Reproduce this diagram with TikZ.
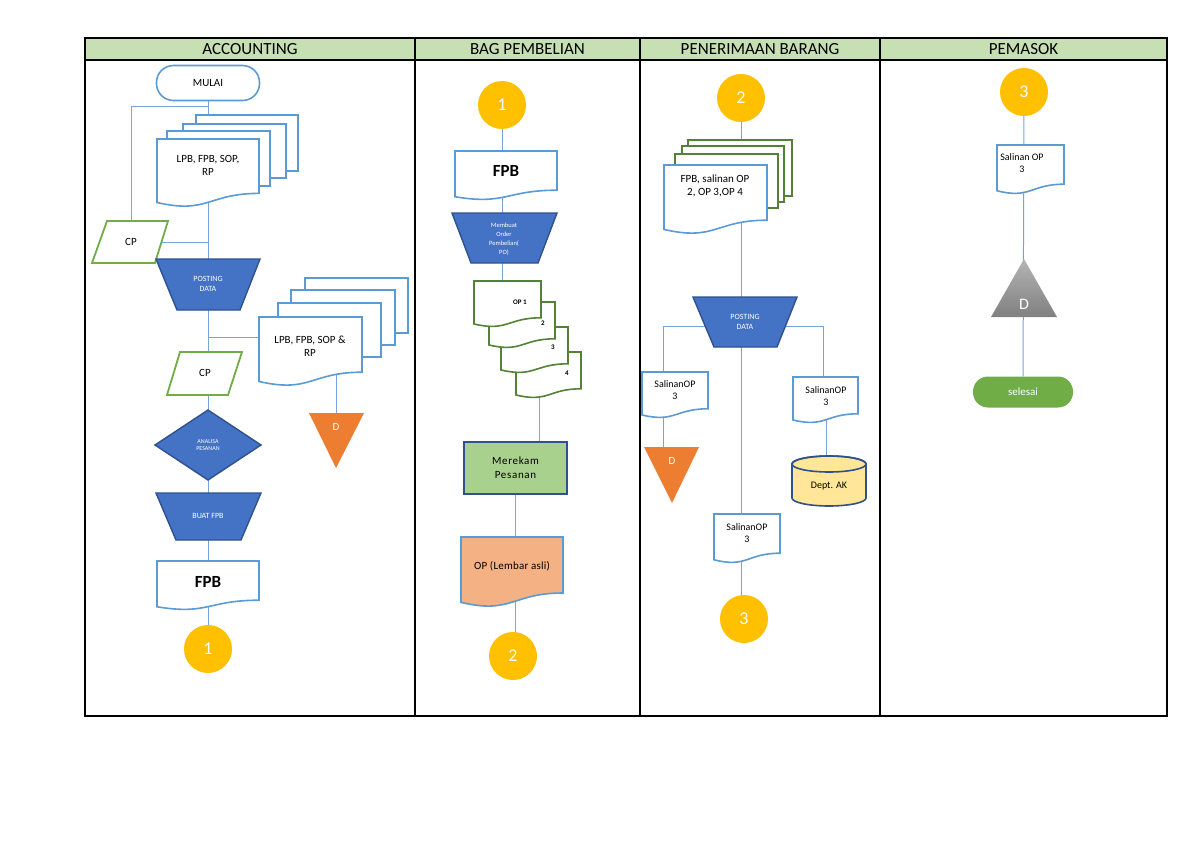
\documentclass[tikz,border=0pt]{standalone}
\usepackage{fontspec}
\setmainfont{Carlito}
\usetikzlibrary{calc}
\pgfdeclarelayer{background}
\pgfsetlayers{background,main}
\definecolor{docblue}{HTML}{5B9BD5}
\definecolor{lineblue}{HTML}{7BA3D9}
\definecolor{dblue}{HTML}{2F528F}
\definecolor{pblue}{HTML}{4472C4}
\definecolor{lgreen}{HTML}{70AD47}
\definecolor{dgreen}{HTML}{548235}
\definecolor{hgreen}{HTML}{C6E0B4}
\definecolor{mgreen}{HTML}{A9D18E}
\definecolor{cyellow}{HTML}{FFC000}
\definecolor{corange}{HTML}{ED7D31}
\definecolor{salmon}{HTML}{F4B183}
\definecolor{cylfill}{HTML}{FFE699}
\definecolor{gtop}{HTML}{B4B4B4}
\definecolor{gbot}{HTML}{808080}
\newcommand\docpath[5][]{\path[#1] (#2,#3) -- ({#2+#4},#3) -- ({#2+#4},{#3+0.8*#5}) .. controls ({#2+0.5*#4},{#3+0.8*#5}) and ({#2+0.5*#4},{#3+1.107*#5}) .. (#2,{#3+0.934*#5}) -- cycle;}
\begin{document}
\begin{tikzpicture}[x=1pt,y=-1pt,
  conn/.style={draw=lineblue, line width=1pt},
  docb/.style={draw=docblue, fill=white, line width=1.6pt},
  docg/.style={draw=dgreen, fill=white, line width=1.6pt},
  doco/.style={draw=docblue, fill=salmon, line width=1.6pt},
  cpg/.style={draw=lgreen, fill=white, line width=1.8pt},
  procb/.style={draw=dblue, fill=pblue, line width=1.4pt},
  oranged/.style={fill=corange},
  lab/.style={font=\fontsize{11}{13}\selectfont, align=center, inner sep=1pt},
  lab10/.style={font=\fontsize{10}{12}\selectfont, align=center, inner sep=1pt},
  wlab/.style={text=white, font=\fontsize{8}{10}\selectfont, align=center, inner sep=1pt},
  smalllab/.style={font=\bfseries\fontsize{7}{8}\selectfont, inner sep=1pt},
  bigb/.style={font=\bfseries\fontsize{17}{19}\selectfont, inner sep=1pt},
  circ/.style={circle, fill=cyellow, minimum size=48pt, inner sep=0pt, text=white, font=\fontsize{18}{20}\selectfont},
  term/.style={rounded corners=17pt, minimum width=103pt, minimum height=35pt, draw=docblue, fill=white, line width=1.6pt, font=\fontsize{11}{13}\selectfont},
  head/.style={font=\fontsize{17}{19}\selectfont}
]
\useasboundingbox (0,0) rectangle (1200,848);
% header and frame
\fill[hgreen] (85,38) rectangle (1167,60);
\node[head] (h1) at (250,49) {ACCOUNTING};
\node[head] (h2) at (527.5,49) {BAG PEMBELIAN};
\node[head] (h3) at (760,49) {PENERIMAAN BARANG};
\node[head] (h4) at (1023.5,49) {PEMASOK};
% ===== ACCOUNTING =====
\node[term] (mulai) at (208,83) {MULAI};
\path[docb] (196,115) rectangle (298,171);
\path[docb] (183,124) rectangle (286,178);
\path[docb] (167,131) rectangle (270,186);
\docpath[docb]{157}{139}{102}{68}
\node[lab] (docA) at (208,165) {LPB, FPB, SOP,\\RP};
\path[cpg] (107,221) -- (168,221) -- (155,263) -- (92,263) -- cycle;
\node[lab] (cp1) at (131,242) {CP};
\path[procb] (156,259) -- (260,259) -- (240,310) -- (177,310) -- cycle;
\node[wlab] (post1) at (208,284) {POSTING\\DATA};
\path[docb] (305,278) rectangle (408,333);
\path[docb] (291,290) rectangle (395,345);
\path[docb] (278,303) rectangle (381,357);
\docpath[docb]{259}{317}{103}{69}
\node[lab] (docB) at (310,346) {LPB, FPB, SOP \&\\RP};
\path[oranged] (309,413) -- (364,413) -- (336,468) -- cycle;
\node[wlab, font=\fontsize{11}{13}\selectfont] (dO1) at (336,427) {D};
\path[cpg] (180,352) -- (242,352) -- (228,395) -- (167,395) -- cycle;
\node[lab] (cp2) at (205,373) {CP};
\path[procb] (208,410) -- (261,445) -- (208,480) -- (155,445) -- cycle;
\node[wlab, font=\fontsize{6}{7.5}\selectfont] (diam) at (208,445) {ANALISA\\PESANAN};
\path[procb] (156,493) -- (261,493) -- (241,540) -- (176,540) -- cycle;
\node[wlab] (buat) at (208,516) {BUAT FPB};
\docpath[docb]{157}{561}{102}{49}
\node[bigb] (fpbA) at (208,582) {FPB};
\node[circ] (c1a) at (208,649) {1};
% ===== BAG PEMBELIAN =====
\node[circ] (c1b) at (502,105) {1};
\docpath[docb]{455}{151}{102}{49}
\node[bigb] (fpbB) at (506,171) {FPB};
\path[procb] (452,213) -- (557,213) -- (538,263) -- (471,263) -- cycle;
\node[wlab, font=\fontsize{6.5}{9}\selectfont] (membuat) at (504,239) {Membuat\\Order\\Pembelian(\\PO)};
\docpath[docg]{516}{352}{65}{46}
\docpath[docg]{501}{327}{67}{46}
\docpath[docg]{489}{302}{66}{46}
\docpath[docg]{474}{281}{67}{46}
\node[smalllab] (op1) at (520,302) {OP 1};
\node[smalllab] (op2) at (543,323) {2};
\node[smalllab] (op3) at (553,347) {3};
\node[smalllab] (op4) at (567,373) {4};
\coordinate (j4) at (539,385);
\node[draw=dblue, fill=mgreen, line width=1.6pt, minimum width=103pt, minimum height=52pt, font=\addfontfeatures{LetterSpace=6}\fontsize{11}{14}\selectfont, align=center] (merekam) at (515.5,468) {Merekam\\Pesanan};
\docpath[doco]{461}{537}{102}{70}
\node[lab, font=\addfontfeatures{LetterSpace=2}\fontsize{11}{13}\selectfont] (oplem) at (512,566) {OP (Lembar asli)};
\node[circ] (c2b) at (513,656) {2};
% ===== PENERIMAAN BARANG =====
\node[circ] (c2c) at (741,98) {2};
\path[docg] (688,140) rectangle (792,196);
\path[docg] (682,146) rectangle (784,202);
\path[docg] (675,154) rectangle (778,208);
\docpath[docb]{664}{165}{103}{69}
\node[lab] (docC) at (715,186) {FPB, salinan OP\\2, OP 3,OP 4};
\path[procb] (693,297) -- (797,297) -- (777,347) -- (714,347) -- cycle;
\node[wlab] (post2) at (745,322) {POSTING\\DATA};
\coordinate (bl) at (663,326);
\coordinate (br) at (823,326);
\docpath[docb]{642}{372}{66}{46}
\node[lab10] (salL) at (675,390) {SalinanOP\\3};
\path[oranged] (644,447) -- (699,447) -- (672,503) -- cycle;
\node[wlab, font=\fontsize{11}{13}\selectfont] (dO2) at (672,461) {D};
\docpath[docb]{793}{377}{65}{46}
\node[lab10] (salR) at (826,396) {SalinanOP\\3};
\path[draw=dblue, fill=cylfill, line width=1.6pt] (792,464) -- (792,498) arc[start angle=180, end angle=360, x radius=37pt, y radius=8pt] -- (866,464) arc[start angle=0, end angle=180, x radius=37pt, y radius=8pt] -- cycle;
\draw[dblue, line width=1.6pt] (829,464) ellipse [x radius=37pt, y radius=8pt];
\node[lab10] (dept) at (829,486) {Dept. AK};
\docpath[docb]{714}{514}{66}{49}
\node[lab10] (salC) at (747,533) {SalinanOP\\3};
\node[circ] (c3c) at (744,619) {3};
% ===== PEMASOK =====
\node[circ] (c3d) at (1024,92) {3};
\docpath[docb]{997}{145}{67}{49}
\node[lab10] (salD) at (1022,163) {Salinan OP\\3};
\shade[top color=gtop, bottom color=gbot] (1024,259) -- (1057,317) -- (991,317) -- cycle;
\node[text=white, font=\fontsize{16}{18}\selectfont, inner sep=1pt] (dG) at (1024,304) {D};
\node[rounded corners=15pt, minimum width=100pt, minimum height=31pt, fill=lgreen, text=white, font=\fontsize{11}{13}\selectfont] (selesai) at (1023,392) {selesai};
% frame
\draw[black, line width=1.8pt] (85,38) rectangle (1167,716);
\draw[black, line width=1.8pt] (85,60) -- (1167,60);
\draw[black, line width=1.8pt] (415,38) -- (415,716);
\draw[black, line width=1.8pt] (640,38) -- (640,716);
\draw[black, line width=1.8pt] (880,38) -- (880,716);
% connectors
\begin{pgfonlayer}{background}
\fill[white] (0,0) rectangle (1200,848);
\coordinate (jA) at (131,107);
\coordinate (jB) at (208,337);
\draw[conn] (mulai) -- (docA);
\draw[conn] (mulai) |- (jA) -- (cp1);
\draw[conn] (docA) -- (post1);
\draw[conn] (cp1) -- (cp1 -| post1);
\draw[conn] (post1) -- (diam);
\draw[conn] (jB) -- (jB -| docB);
\draw[conn] (docB -| dO1) -- (dO1);
\draw[conn] (diam) -- (buat) -- (fpbA) -- (c1a);
\draw[conn] (c1b) -- (c1b |- op1);
\draw[conn] (j4) -- (j4 |- merekam);
\draw[conn] (merekam) -- (merekam |- c2b);
\draw[conn] (c2c) -- (c2c |- c3c);
\draw[conn] (post2 |- bl) -- (bl) -- (bl |- dO2);
\draw[conn] (post2 |- br) -- (br) -- (br |- salR);
\draw[conn] (salR) -- (salR |- dept);
\draw[conn] (c3d) -- (selesai);
\end{pgfonlayer}
\end{tikzpicture}
\end{document}
